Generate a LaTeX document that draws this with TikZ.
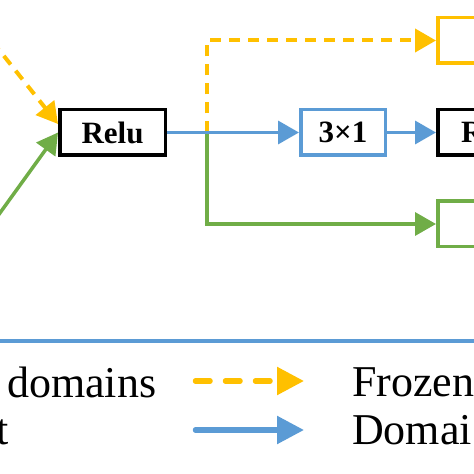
\documentclass[tikz,border=0pt]{standalone}
\usepackage{fontspec}
\setmainfont{Liberation Serif}
\usetikzlibrary{arrows.meta}
\definecolor{cOrange}{HTML}{FFC000}
\definecolor{cBlue}{HTML}{5B9BD5}
\definecolor{cGreen}{HTML}{70AD47}
\begin{document}
\begin{tikzpicture}[x=1pt,y=1pt,
  box/.style={draw, line width=3.5pt, minimum height=45.5pt, inner sep=0pt, fill=white,
    font=\bfseries\fontsize{31}{31}\selectfont},
  tipA/.style={-{Triangle[length=21pt,width=23pt]}},
  bluec/.style={line width=3.5pt, cBlue},
  greenc/.style={line width=3.5pt, cGreen},
  orangec/.style={line width=4pt, cOrange, dash pattern=on 11pt off 8pt},
  legtext/.style={font=\fontsize{44}{44}\selectfont, inner sep=0pt},
  legline/.style={line width=5.5pt, line cap=round, -{Triangle[length=27pt,width=27pt]}}
]
\useasboundingbox (0,0) rectangle (474,474);
\clip (0,0) rectangle (474,474);

% boxes
\node[box, minimum width=105.5pt] (relu) at (112.5,341.5) {Relu};
\node[box, minimum width=84.5pt, draw=cBlue] (conv) at (343,341.5) {3×1};
\node[box, minimum width=105.5pt, anchor=west] (relu2) at (436,341.5) {};
\node[anchor=base west, inner sep=0pt, font=\bfseries\fontsize{31}{31}\selectfont] (relu2txt) at (461,331) {R};
\node[box, draw=cOrange, minimum width=105.5pt, anchor=west] (obox) at (436,433.5) {};
\node[box, draw=cGreen, minimum width=105.5pt, anchor=west] (gbox) at (436,250) {};

% connectors
\coordinate (br) at (207,341.5);
\coordinate (oin) at (-8,433);
\coordinate (gin) at (-8,250);
\draw[orangec, tipA] (oin) -- ([yshift=8.5pt]relu.west);
\draw[greenc, tipA] (gin) -- (relu.west);
\draw[orangec, tipA] (br) |- (obox);
\draw[greenc, tipA] (br) |- (gbox);
\draw[bluec, tipA] (relu) -- (conv);
\draw[bluec, tipA] (conv) -- (relu2);

% legend
\coordinate (sepL) at (0,133);
\coordinate (sepR) at (474,133);
\draw[line width=3.5pt, cBlue] (sepL) -- (sepR);
\coordinate (lo1) at (195.5,93);
\coordinate (lo2) at (304,93);
\coordinate (lb1) at (195.5,44);
\coordinate (lb2) at (304,44);
\draw[legline, cOrange, dash pattern=on 14.5pt off 15.5pt] (lo1) -- (lo2);
\draw[legline, cBlue] (lb1) -- (lb2);

\node[legtext, anchor=base west] (tdom) at (7,76) {domains};
\node[legtext, anchor=base east] (tt) at (9,29) {t};
\node[legtext, anchor=base west] (tfro) at (352,77) {Frozen};
\node[legtext, anchor=base west] (tdomai) at (352,29) {Domai};
\end{tikzpicture}
\end{document}
